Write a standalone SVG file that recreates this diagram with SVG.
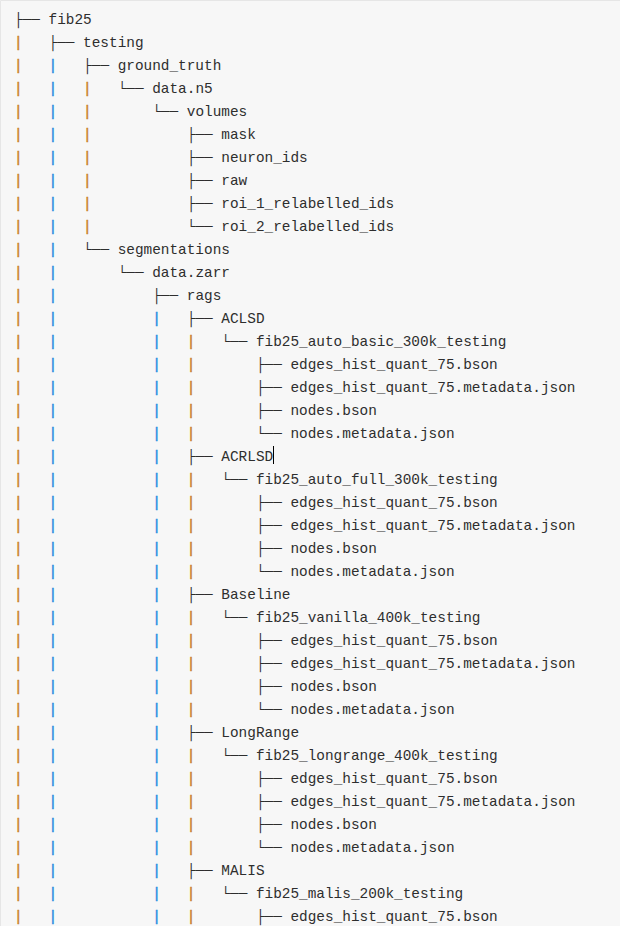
<svg xmlns="http://www.w3.org/2000/svg" width="620" height="926" viewBox="0 0 620 926">
<style>
text{font-family:"Liberation Mono","DejaVu Sans Mono",monospace;font-size:14.4px;fill:#2e2e2e;white-space:pre}
text.o{fill:#c9822c;stroke:#c9822c;stroke-width:0.5px}
text.b{fill:#2d8ee0;stroke:#2d8ee0;stroke-width:0.5px}
</style>
<rect x="0" y="0" width="620" height="926" fill="#f7f7f7"/>
<path d="M0.5 926V0.5H620" fill="none" stroke="#e6e6e6" stroke-width="1"/>
<g id="nodes">
<g id="n0"><text x="14" y="24">├── fib25</text></g>
<g id="n1"><text class="o" x="14" y="47">|</text><text x="48.56" y="47">├── testing</text></g>
<g id="n2"><text class="o" x="14" y="70">|</text><text class="b" x="48.56" y="70">|</text><text x="83.12" y="70">├── ground_truth</text></g>
<g id="n3"><text class="o" x="14" y="93">|</text><text class="b" x="48.56" y="93">|</text><text class="o" x="83.12" y="93">|</text><text x="117.68" y="93">└── data.n5</text></g>
<g id="n4"><text class="o" x="14" y="116">|</text><text class="b" x="48.56" y="116">|</text><text class="o" x="83.12" y="116">|</text><text x="152.24" y="116">└── volumes</text></g>
<g id="n5"><text class="o" x="14" y="139">|</text><text class="b" x="48.56" y="139">|</text><text class="o" x="83.12" y="139">|</text><text x="186.8" y="139">├── mask</text></g>
<g id="n6"><text class="o" x="14" y="162">|</text><text class="b" x="48.56" y="162">|</text><text class="o" x="83.12" y="162">|</text><text x="186.8" y="162">├── neuron_ids</text></g>
<g id="n7"><text class="o" x="14" y="185">|</text><text class="b" x="48.56" y="185">|</text><text class="o" x="83.12" y="185">|</text><text x="186.8" y="185">├── raw</text></g>
<g id="n8"><text class="o" x="14" y="208">|</text><text class="b" x="48.56" y="208">|</text><text class="o" x="83.12" y="208">|</text><text x="186.8" y="208">├── roi_1_relabelled_ids</text></g>
<g id="n9"><text class="o" x="14" y="231">|</text><text class="b" x="48.56" y="231">|</text><text class="o" x="83.12" y="231">|</text><text x="186.8" y="231">└── roi_2_relabelled_ids</text></g>
<g id="n10"><text class="o" x="14" y="254">|</text><text class="b" x="48.56" y="254">|</text><text x="83.12" y="254">└── segmentations</text></g>
<g id="n11"><text class="o" x="14" y="277">|</text><text class="b" x="48.56" y="277">|</text><text x="117.68" y="277">└── data.zarr</text></g>
<g id="n12"><text class="o" x="14" y="300">|</text><text class="b" x="48.56" y="300">|</text><text x="152.24" y="300">├── rags</text></g>
<g id="n13"><text class="o" x="14" y="323">|</text><text class="b" x="48.56" y="323">|</text><text class="b" x="152.24" y="323">|</text><text x="186.8" y="323">├── ACLSD</text></g>
<g id="n14"><text class="o" x="14" y="346">|</text><text class="b" x="48.56" y="346">|</text><text class="b" x="152.24" y="346">|</text><text class="o" x="186.8" y="346">|</text><text x="221.36" y="346">└── fib25_auto_basic_300k_testing</text></g>
<g id="n15"><text class="o" x="14" y="369">|</text><text class="b" x="48.56" y="369">|</text><text class="b" x="152.24" y="369">|</text><text class="o" x="186.8" y="369">|</text><text x="255.92" y="369">├── edges_hist_quant_75.bson</text></g>
<g id="n16"><text class="o" x="14" y="392">|</text><text class="b" x="48.56" y="392">|</text><text class="b" x="152.24" y="392">|</text><text class="o" x="186.8" y="392">|</text><text x="255.92" y="392">├── edges_hist_quant_75.metadata.json</text></g>
<g id="n17"><text class="o" x="14" y="415">|</text><text class="b" x="48.56" y="415">|</text><text class="b" x="152.24" y="415">|</text><text class="o" x="186.8" y="415">|</text><text x="255.92" y="415">├── nodes.bson</text></g>
<g id="n18"><text class="o" x="14" y="438">|</text><text class="b" x="48.56" y="438">|</text><text class="b" x="152.24" y="438">|</text><text class="o" x="186.8" y="438">|</text><text x="255.92" y="438">└── nodes.metadata.json</text></g>
<g id="n19"><text class="o" x="14" y="461">|</text><text class="b" x="48.56" y="461">|</text><text class="b" x="152.24" y="461">|</text><text x="186.8" y="461">├── ACRLSD</text><line x1="273.5" y1="446" x2="273.5" y2="464" stroke="#000" stroke-width="1"/></g>
<g id="n20"><text class="o" x="14" y="484">|</text><text class="b" x="48.56" y="484">|</text><text class="b" x="152.24" y="484">|</text><text class="o" x="186.8" y="484">|</text><text x="221.36" y="484">└── fib25_auto_full_300k_testing</text></g>
<g id="n21"><text class="o" x="14" y="507">|</text><text class="b" x="48.56" y="507">|</text><text class="b" x="152.24" y="507">|</text><text class="o" x="186.8" y="507">|</text><text x="255.92" y="507">├── edges_hist_quant_75.bson</text></g>
<g id="n22"><text class="o" x="14" y="530">|</text><text class="b" x="48.56" y="530">|</text><text class="b" x="152.24" y="530">|</text><text class="o" x="186.8" y="530">|</text><text x="255.92" y="530">├── edges_hist_quant_75.metadata.json</text></g>
<g id="n23"><text class="o" x="14" y="553">|</text><text class="b" x="48.56" y="553">|</text><text class="b" x="152.24" y="553">|</text><text class="o" x="186.8" y="553">|</text><text x="255.92" y="553">├── nodes.bson</text></g>
<g id="n24"><text class="o" x="14" y="576">|</text><text class="b" x="48.56" y="576">|</text><text class="b" x="152.24" y="576">|</text><text class="o" x="186.8" y="576">|</text><text x="255.92" y="576">└── nodes.metadata.json</text></g>
<g id="n25"><text class="o" x="14" y="599">|</text><text class="b" x="48.56" y="599">|</text><text class="b" x="152.24" y="599">|</text><text x="186.8" y="599">├── Baseline</text></g>
<g id="n26"><text class="o" x="14" y="622">|</text><text class="b" x="48.56" y="622">|</text><text class="b" x="152.24" y="622">|</text><text class="o" x="186.8" y="622">|</text><text x="221.36" y="622">└── fib25_vanilla_400k_testing</text></g>
<g id="n27"><text class="o" x="14" y="645">|</text><text class="b" x="48.56" y="645">|</text><text class="b" x="152.24" y="645">|</text><text class="o" x="186.8" y="645">|</text><text x="255.92" y="645">├── edges_hist_quant_75.bson</text></g>
<g id="n28"><text class="o" x="14" y="668">|</text><text class="b" x="48.56" y="668">|</text><text class="b" x="152.24" y="668">|</text><text class="o" x="186.8" y="668">|</text><text x="255.92" y="668">├── edges_hist_quant_75.metadata.json</text></g>
<g id="n29"><text class="o" x="14" y="691">|</text><text class="b" x="48.56" y="691">|</text><text class="b" x="152.24" y="691">|</text><text class="o" x="186.8" y="691">|</text><text x="255.92" y="691">├── nodes.bson</text></g>
<g id="n30"><text class="o" x="14" y="714">|</text><text class="b" x="48.56" y="714">|</text><text class="b" x="152.24" y="714">|</text><text class="o" x="186.8" y="714">|</text><text x="255.92" y="714">└── nodes.metadata.json</text></g>
<g id="n31"><text class="o" x="14" y="737">|</text><text class="b" x="48.56" y="737">|</text><text class="b" x="152.24" y="737">|</text><text x="186.8" y="737">├── LongRange</text></g>
<g id="n32"><text class="o" x="14" y="760">|</text><text class="b" x="48.56" y="760">|</text><text class="b" x="152.24" y="760">|</text><text class="o" x="186.8" y="760">|</text><text x="221.36" y="760">└── fib25_longrange_400k_testing</text></g>
<g id="n33"><text class="o" x="14" y="783">|</text><text class="b" x="48.56" y="783">|</text><text class="b" x="152.24" y="783">|</text><text class="o" x="186.8" y="783">|</text><text x="255.92" y="783">├── edges_hist_quant_75.bson</text></g>
<g id="n34"><text class="o" x="14" y="806">|</text><text class="b" x="48.56" y="806">|</text><text class="b" x="152.24" y="806">|</text><text class="o" x="186.8" y="806">|</text><text x="255.92" y="806">├── edges_hist_quant_75.metadata.json</text></g>
<g id="n35"><text class="o" x="14" y="829">|</text><text class="b" x="48.56" y="829">|</text><text class="b" x="152.24" y="829">|</text><text class="o" x="186.8" y="829">|</text><text x="255.92" y="829">├── nodes.bson</text></g>
<g id="n36"><text class="o" x="14" y="852">|</text><text class="b" x="48.56" y="852">|</text><text class="b" x="152.24" y="852">|</text><text class="o" x="186.8" y="852">|</text><text x="255.92" y="852">└── nodes.metadata.json</text></g>
<g id="n37"><text class="o" x="14" y="875">|</text><text class="b" x="48.56" y="875">|</text><text class="b" x="152.24" y="875">|</text><text x="186.8" y="875">├── MALIS</text></g>
<g id="n38"><text class="o" x="14" y="898">|</text><text class="b" x="48.56" y="898">|</text><text class="b" x="152.24" y="898">|</text><text class="o" x="186.8" y="898">|</text><text x="221.36" y="898">└── fib25_malis_200k_testing</text></g>
<g id="n39"><text class="o" x="14" y="921">|</text><text class="b" x="48.56" y="921">|</text><text class="b" x="152.24" y="921">|</text><text class="o" x="186.8" y="921">|</text><text x="255.92" y="921">├── edges_hist_quant_75.bson</text></g>
</g>
<g id="connectors"></g>
</svg>
